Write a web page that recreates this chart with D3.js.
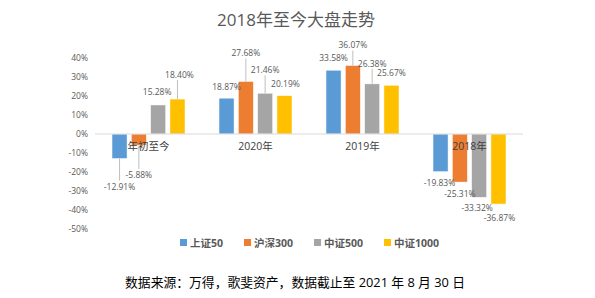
<!DOCTYPE html>
<html>
<head>
<meta charset="utf-8">
<script src="https://cdn.jsdelivr.net/npm/d3@7"></script>
<style>
	body { margin: 0; background: #fff; }
	svg { display: block; font-family: "Open Sans", "Noto Sans CJK SC", sans-serif; }
</style>
</head>
<body>
<svg id="svgChart" width="595" height="298"></svg>
<script>
// Chart data
var categories = ["年初至今", "2020年", "2019年", "2018年"];
var seriesNames = ["上证50", "沪深300", "中证500", "中证1000"];
var seriesValues = [
	[-12.91, 18.87, 33.58, -19.83],
	[-5.88, 27.68, 36.07, -25.31],
	[15.28, 21.46, 26.38, -33.32],
	[18.40, 20.19, 25.67, -36.87]
];
var yTicks = [40, 30, 20, 10, 0, -10, -20, -30, -40, -50];

// Layout params
var chart = {
	"width": 595, "height": 298,
	"colors": ["#5b9bd5", "#ed7d31", "#a5a5a5", "#ffc000"],
	"title": "2018年至今大盘走势",
	"note": "数据来源：万得，歌斐资产，数据截止至 2021 年 8 月 30 日"
};

// Hand placed label offsets (like the Excel original), [dx, dy] from bar end
var labelShift = [
	[[0, 28], [0, -11], [0, -12], [-1, 11]],
	[[0, 30], [0, -28], [0, -20], [0, 12]],
	[[-1, -13], [0, -23], [0, -20], [-2, 11]],
	[[2, -24], [1, -12], [0, -12], [1, 14]]
];

chart.draw = () => {
	let svg = d3.select("#svgChart");

	// Scales
	let x0 = d3.scaleBand()
		.domain(categories)
		.range([95, 523]);
	let x1 = d3.scaleBand()
		.domain(seriesNames)
		.range([17, 90])
		.paddingInner(0.22);
	let y = d3.scaleLinear()
		.domain([-50, 40])
		.range([229, 58]);

	// Title
	svg.append("text")
		.attr("x", 296)
		.attr("y", 26)
		.attr("text-anchor", "middle")
		.style("font-size", "17px")
		.style("fill", "#595959")
		.text(chart.title);

	// Y axis labels
	let yAxis = d3.axisLeft(y)
		.tickValues(yTicks)
		.tickSize(0)
		.tickPadding(0)
		.tickFormat((d) => d + "%");
	let gy = svg.append("g")
		.attr("transform", "translate(88,0)")
		.call(yAxis);
	gy.select(".domain").remove();
	gy.selectAll("text")
		.style("font-size", "8.5px")
		.style("font-family", "\"Open Sans\", sans-serif")
		.style("fill", "#595959");

	// Bars
	let groups = svg.selectAll(".grp")
		.data(categories)
		.enter()
		.append("g")
		.attr("class", "grp")
		.attr("transform", (c) => "translate(" + x0(c) + ",0)");

	seriesNames.forEach((s, si) => {
		groups.append("rect")
			.attr("x", x1(s))
			.attr("width", x1.bandwidth())
			.attr("y", (c, ci) => y(Math.max(0, seriesValues[si][ci])))
			.attr("height", (c, ci) => Math.abs(y(seriesValues[si][ci]) - y(0)))
			.style("fill", chart.colors[si])
			.style("stroke", "#fff")
			.style("stroke-width", 0.5);
	});

	// Zero line
	svg.append("line")
		.attr("x1", x0.range()[0])
		.attr("x2", x0.range()[1])
		.attr("y1", y(0))
		.attr("y2", y(0))
		.attr("stroke", "#d9d9d9")
		.attr("stroke-width", 1);

	// Category labels
	svg.selectAll(".cat")
		.data(categories)
		.enter()
		.append("text")
		.attr("class", "cat")
		.attr("x", (c) => x0(c) + x0.bandwidth() / 2)
		.attr("y", 150)
		.attr("text-anchor", "middle")
		.style("font-size", "10.5px")
		.style("fill", "#404040")
		.text((c) => c);

	// Data labels with leader lines
	seriesNames.forEach((s, si) => {
		categories.forEach((c, ci) => {
			let v = seriesValues[si][ci];
			let bx = x0(c) + x1(s) + x1.bandwidth() / 2;
			let by = y(v);
			let sh = labelShift[si][ci];
			let lx = bx + sh[0];
			let ly = by + sh[1];

			if (Math.abs(sh[1]) > 16) {
				let edge = sh[1] > 0 ? ly - 6 : ly + 5;
				svg.append("line")
					.attr("x1", bx)
					.attr("x2", bx)
					.attr("y1", by)
					.attr("y2", edge)
					.attr("stroke", "#bfbfbf")
					.attr("stroke-width", 1);
			}

			svg.append("text")
				.attr("x", lx)
				.attr("y", ly)
				.attr("dy", "0.35em")
				.attr("text-anchor", "middle")
				.style("font-size", "8.5px")
				.style("font-family", "\"Open Sans\", sans-serif")
				.style("fill", "#595959")
				.text(v.toFixed(2) + "%");
		});
	});

	// Legend
	let lx = 180;
	seriesNames.forEach((s, si) => {
		svg.append("rect")
			.attr("x", lx)
			.attr("y", 239)
			.attr("width", 7)
			.attr("height", 7)
			.style("fill", chart.colors[si]);
		let t = svg.append("text")
			.attr("x", lx + 10)
			.attr("y", 243)
			.attr("dy", "0.35em")
			.style("font-size", "10.5px")
			.style("font-weight", "bold")
			.style("fill", "#595959")
			.text(s);
		lx += 10 + t.node().getComputedTextLength() + 21;
	});

	// Source note
	svg.append("text")
		.attr("x", 295)
		.attr("y", 283)
		.attr("dy", "0.35em")
		.attr("text-anchor", "middle")
		.style("font-size", "12.8px")
		.style("fill", "#000")
		.text(chart.note);
}

chart.draw();
</script>
</body>
</html>
